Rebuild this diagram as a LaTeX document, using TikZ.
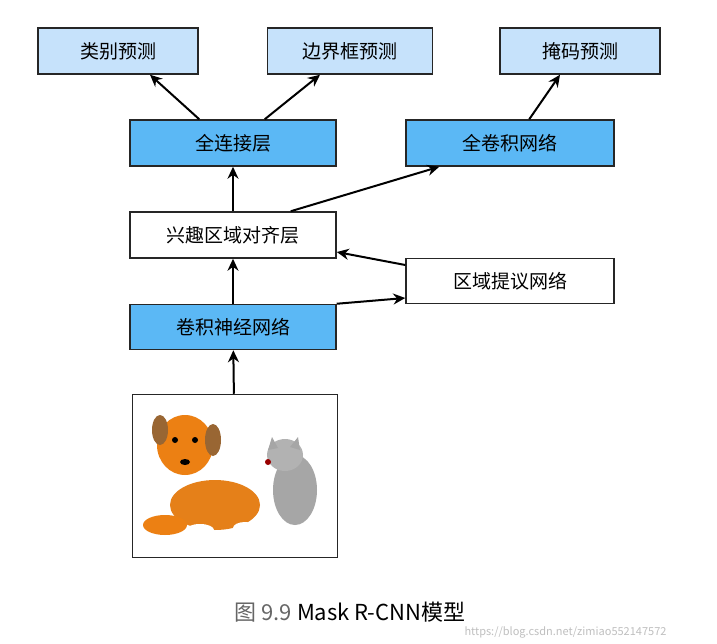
\documentclass[tikz,border=0pt]{standalone}
\usepackage{fontspec}
\setmainfont{Noto Sans CJK SC}
\usetikzlibrary{arrows.meta,calc}
\definecolor{lb}{HTML}{C6E2FB}
\definecolor{db}{HTML}{5BB8F5}
\begin{document}
\begin{tikzpicture}[x=1pt,y=-1pt,
 box/.style={draw=black!85,line width=1.5pt,font=\fontsize{19}{22}\selectfont,inner sep=0pt},
 arr/.style={-{Stealth[length=12pt,width=11pt]},line width=2pt}]
\useasboundingbox[fill=white] (0,0) rectangle (717,644);
\node[box,fill=lb,minimum width=160,minimum height=46] (c) at (118,51) {类别预测};
\node[box,fill=lb,minimum width=165,minimum height=46] (b) at (350,51) {边界框预测};
\node[box,fill=lb,minimum width=160,minimum height=46] (m) at (580,51) {掩码预测};
\node[box,fill=db,minimum width=206,minimum height=46] (fc) at (233,143) {全连接层};
\node[box,fill=db,minimum width=208,minimum height=46] (fcn) at (510,143) {全卷积网络};
\node[box,fill=white,minimum width=206,minimum height=46] (roi) at (233,235) {兴趣区域对齐层};
\node[box,fill=white,minimum width=208,minimum height=45] (rpn) at (510,281) {区域提议网络};
\node[box,fill=db,minimum width=206,minimum height=45] (cnn) at (233,327) {卷积神经网络};
\node[draw=black!85,line width=1.5pt,minimum width=205,minimum height=163,inner sep=0pt] (img) at (235,476) {};
\begin{scope}
\fill[orange!60!brown] (215,505) ellipse (45 and 25);
\fill[orange!70!brown] (165,525) ellipse (22 and 10);
\fill[orange!70!brown] (185,445) ellipse (28 and 30);
\fill[brown!80!black] (160,430) ellipse (8 and 15);
\fill[brown!80!black] (213,440) ellipse (8 and 16);
\fill[black] (175,440) circle (3); \fill[black] (195,440) circle (3);
\fill[black] (185,462) ellipse (5 and 3);
\fill[gray!70] (295,490) ellipse (22 and 35);
\fill[gray!60] (285,455) ellipse (18 and 16);
\fill[gray!70] (272,437)--(278,448)--(268,450)--cycle;
\fill[gray!70] (298,437)--(300,450)--(290,447)--cycle;
\fill[red!60!black] (268,462) circle (3);
\fill[white] (200,530) ellipse (14 and 6); \fill[white] (245,528) ellipse (12 and 6);
\end{scope}
\draw[arr] (img) -- (cnn);
\draw[arr] (cnn) -- (roi);
\draw[arr] (roi) -- (fc);
\draw[arr] (cnn.north east) -- (rpn.west |- 0,298);
\draw[arr] (rpn.west |- 0,265) -- (roi.east |- 0,252);
\draw[arr] ($(roi.north east)+(-46,0)$) -- ($(fcn.south west)+(34,0)$);
\draw[arr] ($(fc.north west)+(70,0)$) -- ($(c.south)+(32,0)$);
\draw[arr] ($(fc.north east)+(-72,0)$) -- ($(b.south)+(-30,0)$);
\draw[arr] ($(fcn.north west)+(124,0)$) -- ($(m.south)+(-20,0)$);
\node[font=\fontsize{22}{26}\selectfont] (cap) at (350,612) {\textcolor{black!60}{\textit{图 9.9}} Mask R-CNN模型};
\node[font=\fontsize{11}{12}\selectfont,text=black!25,anchor=east] (wm) at (670,632) {https://blog.csdn.net/zimiao552147572};
\end{tikzpicture}
\end{document}
